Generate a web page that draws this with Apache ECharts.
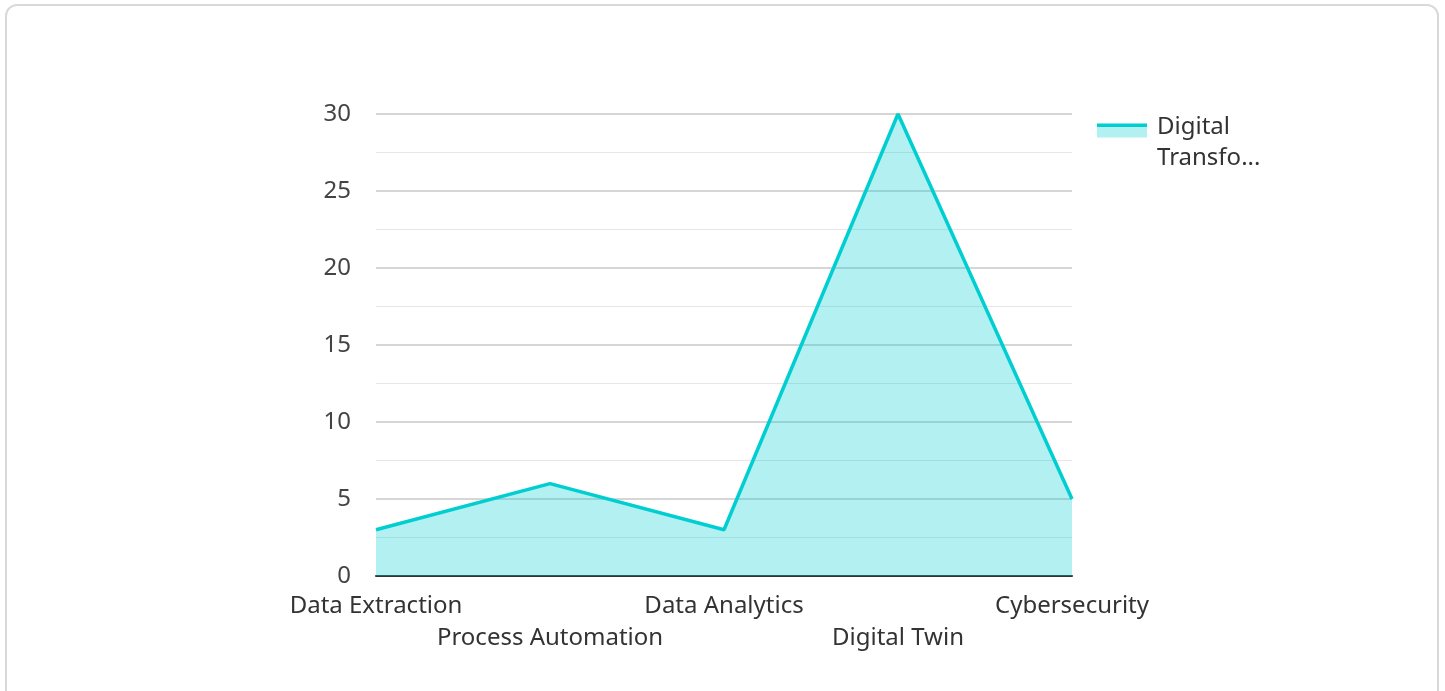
<!DOCTYPE html>
<html>
<head>
<meta charset="utf-8">
<script src="https://cdn.jsdelivr.net/npm/echarts@6/dist/echarts.min.js"></script>
<style>
html,body{margin:0;padding:0;background:#fff;width:1445px;height:691px;overflow:hidden;}
#card{position:absolute;left:5px;top:4px;width:1434px;height:700px;border:2px solid #d9d9d9;border-radius:12px;box-sizing:border-box;}
#chart{position:absolute;left:0;top:0;width:1445px;height:691px;}
</style>
</head>
<body>
<div id="card"></div>
<div id="chart"></div>
<script>
const categories = ['Data Extraction', 'Process Automation', 'Data Analytics', 'Digital Twin', 'Cybersecurity'];
const seriesName = 'Digital Transformation';
const values = [3, 6, 3, 30, 5];
const yTicks = {min: 0, max: 30, interval: 5};

const FONT = '"Noto Sans", sans-serif';
const chart = echarts.init(document.getElementById('chart'), null, {renderer: 'canvas'});
chart.setOption({
  animation: false,
  backgroundColor: 'transparent',
  grid: {left: 376, right: 373, top: 114, bottom: 115, containLabel: false},
  legend: {
    orient: 'vertical',
    left: 1092,
    top: 82,
    itemWidth: 50,
    itemHeight: 14,
    itemGap: 10,
    icon: 'rect',
    itemStyle: {
      color: {type: 'linear', x: 0, y: 0, x2: 0, y2: 1, colorStops: [
        {offset: 0, color: '#00CED1'}, {offset: 0.28, color: '#00CED1'},
        {offset: 0.28, color: '#b2f0f1'}, {offset: 1, color: '#b2f0f1'}]},
      borderWidth: 0
    },
    formatter: () => '{s| }\n{a|Digital}\n{a|Transfo...}',
    textStyle: {
      fontFamily: FONT, fontSize: 24, color: '#333', lineHeight: 31, padding: [0, 0, 0, 5],
      rich: {
        s: {fontSize: 10, lineHeight: 25},
        a: {fontFamily: FONT, fontSize: 24, color: '#333', lineHeight: 31}
      }
    }
  },
  xAxis: {
    type: 'category',
    data: categories,
    boundaryGap: false,
    axisLine: {show: true, lineStyle: {color: '#333', width: 2}},
    axisTick: {show: false},
    axisLabel: {
      interval: 0,
      margin: 14,
      fontFamily: FONT, fontSize: 24, color: '#333', lineHeight: 32,
      formatter: (v, i) => (i % 2 ? '\n' + v : v)
    },
    splitLine: {show: false}
  },
  yAxis: {
    type: 'value',
    min: yTicks.min, max: yTicks.max, interval: yTicks.interval,
    axisLine: {show: false},
    axisTick: {show: false},
    axisLabel: {margin: 25, fontFamily: FONT, fontSize: 24, color: '#444'},
    splitLine: {show: true, lineStyle: {color: '#c8c8c8', width: 1.5}},
    minorTick: {show: false, splitNumber: 2},
    minorSplitLine: {show: true, lineStyle: {color: '#e6e6e6', width: 1}}
  },
  series: [{
    name: seriesName,
    type: 'line',
    data: values,
    symbol: 'none',
    lineStyle: {color: '#00CED1', width: 3.5},
    itemStyle: {color: '#00CED1'},
    areaStyle: {color: '#00CED1', opacity: 0.3, origin: 'start'},
    z: 1
  }]
});
</script>
</body>
</html>
